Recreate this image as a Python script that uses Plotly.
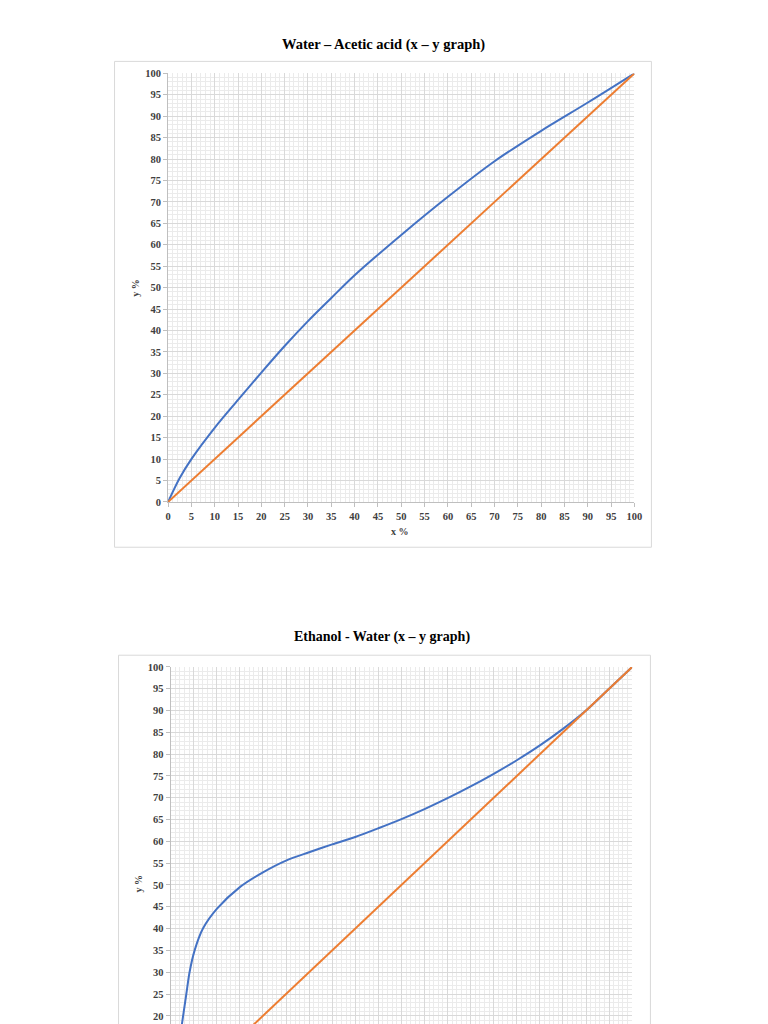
import plotly.graph_objs as go

# x-y equilibrium data (mol %)
acetic_x = [0, 2.5, 5, 10, 15, 20, 25, 30, 35, 40, 50, 60, 70, 80, 90, 100]
acetic_y = [0, 5.6, 10, 17.3, 23.8, 30.2, 36.4, 42.2, 47.6, 52.9, 62.3, 71.2, 79.5, 86.6, 93.2, 100]

ethanol_x = [0, 2.5, 3.4, 4.1, 5.2, 7.0, 10, 15, 20, 25, 30, 35, 40, 45, 50,
             55, 60, 65, 70, 75, 80, 85, 90, 95, 100]
ethanol_y = [0, 18.5, 25, 30, 35, 40, 44.5, 49.5, 52.9, 55.6, 57.5, 59.3, 61, 63.0, 65.1,
             67.4, 69.9, 72.6, 75.5, 78.6, 82.0, 85.8, 90.0, 95, 100]

diag = [0, 100]
tick_vals = list(range(0, 101, 5))

BLUE = '#4472C4'
ORANGE = '#ED7D31'
serif = 'Liberation Serif'
tick_font = dict(family=serif, size=10.5, color='#404040', weight='bold')

W, H = 768, 1030
# the photo comes out slightly shrunk/shifted, so map target pixels back to figure space
S, DX, DY = 0.9896, 1.0, 5.6


def px(x):
    return (x - DX) / S / W


def py_(y):
    return 1 - (y - DY) / S / H


fig = go.Figure()
fig.add_trace(go.Scatter(x=acetic_x, y=acetic_y, mode='lines', line=dict(color=BLUE, width=2, shape='spline', smoothing=0.9),
                         xaxis='x', yaxis='y', showlegend=False))
fig.add_trace(go.Scatter(x=diag, y=diag, mode='lines', line=dict(color=ORANGE, width=2),
                         xaxis='x', yaxis='y', showlegend=False))
fig.add_trace(go.Scatter(x=ethanol_x, y=ethanol_y, mode='lines', line=dict(color=BLUE, width=2, shape='spline', smoothing=0.8),
                         xaxis='x2', yaxis='y2', showlegend=False))
fig.add_trace(go.Scatter(x=diag, y=diag, mode='lines', line=dict(color=ORANGE, width=2),
                         xaxis='x2', yaxis='y2', showlegend=False))


def axis(domain, rng, anchor, labels=True, line=True):
    return dict(
        domain=domain, range=rng, anchor=anchor,
        tickvals=tick_vals, showticklabels=labels, tickfont=tick_font,
        showgrid=True, gridcolor='#d9d9d9', gridwidth=1,
        minor=dict(dtick=1, showgrid=True, gridcolor='#ebebeb', gridwidth=0.6),
        showline=line, linecolor='#bfbfbf', linewidth=1,
        ticks='outside' if line else '', ticklen=4, tickcolor='#bfbfbf',
        zeroline=False, fixedrange=True,
    )


def label(text, x, y, size, color, angle=0):
    return dict(text=text, x=px(x), y=py_(y), xref='paper', yref='paper',
                xanchor='center', yanchor='middle', textangle=angle, showarrow=False,
                font=dict(family=serif, size=size, color=color))


# bottom chart runs off the page: y at the page edge
bottom_y2 = 100 - (1030 - (667.7 - DY) / S) / (4.3625 / S)

fig.update_layout(
    width=W, height=H,
    margin=dict(l=0, r=0, t=0, b=0),
    paper_bgcolor='white', plot_bgcolor='white',
    xaxis=axis([px(166.7), px(635)], [0, 100], 'y'),
    yaxis=axis([py_(502.7), py_(74)], [0, 100], 'x'),
    xaxis2=axis([px(169.3), px(632.7)], [0, 100], 'y2', labels=False, line=False),
    yaxis2=axis([0.0, py_(667.7)], [bottom_y2, 100], 'x2'),
    shapes=[
        dict(type='rect', xref='paper', yref='paper', x0=px(113), x1=px(652),
             y0=py_(548), y1=py_(62), line=dict(color='#d9d9d9', width=1)),
        dict(type='rect', xref='paper', yref='paper', x0=px(117), x1=px(651),
             y0=-0.01, y1=py_(656), line=dict(color='#d9d9d9', width=1)),
    ],
    annotations=[
        label('<b>Water – Acetic acid (x – y graph)</b>', 383, 45, 14.5, 'black'),
        label('<b>Ethanol - Water (x – y graph)</b>', 382, 638, 14, 'black'),
        label('<b>x %</b>', 400, 532, 10, '#404040'),
        label('<b>y %</b>', 134, 288, 10, '#404040', -90),
        label('<b>y %</b>', 137, 884, 10, '#404040', -90),
    ],
)

pin = ("document.documentElement.style.overflow='hidden';"
       "document.body.style.margin='0';document.body.style.overflow='hidden';"
       "var g=document.getElementsByClassName('plotly-graph-div')[0];"
       "g.style.position='fixed';g.style.left='0px';g.style.top='0px';")

fig.write_html("out.html", config={'displayModeBar': False}, post_script=pin)
